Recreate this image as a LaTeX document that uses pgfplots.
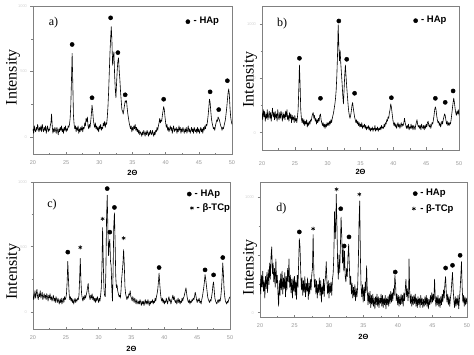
\documentclass[border=0pt]{standalone}
\usepackage{pgfplots}
\pgfplotsset{compat=1.18}
\usepackage{fontspec}
\setmainfont{Liberation Serif}
\setsansfont{Liberation Sans}
\definecolor{frame}{gray}{0.5}
\pgfplotsset{
  xrd/.style={
    scale only axis, anchor=south west,
    xmin=20, xmax=50, ymin=0, ymax=100,
    xtick={20,25,30,35,40,45,50}, minor xtick={22.5,27.5,32.5,37.5,42.5,47.5},
    xtick pos=bottom, ytick pos=left,
    xtick align=inside, ytick align=outside,
    major tick length=2.5pt, minor tick length=1.5pt,
    every tick/.style={frame, line width=0.5pt},
    axis line style={frame, line width=0.7pt},
    xticklabel style={font=\sffamily\fontsize{5.5}{6}\selectfont, text=gray!80, yshift=-3pt},
    yticklabel style={font=\sffamily\fontsize{4}{5}\selectfont, text=gray!35},
    /pgf/number format/assume math mode=true,
    yticklabels={0,500,1000},
    xlabel={2Θ},
    xlabel style={font=\sffamily\bfseries\fontsize{7.5}{8}\selectfont, anchor=center},
    ylabel={Intensity},
    ylabel style={font=\fontsize{16}{18}\selectfont, anchor=center},
  },
  xrdline/.style={black, line width=0.6pt, line join=round},
  hap/.style={only marks, mark=*, mark size=2.1pt, black},
  tcp/.style={only marks, mark=asterisk, mark size=2pt, black, mark options={line width=0.6pt}},
}
\newcommand{\lgd}{\sffamily\bfseries\fontsize{9.5}{10}\selectfont}
\newcommand{\plab}{\fontsize{12}{14}\selectfont}
\begin{document}
\begin{tikzpicture}
\path[use as bounding box] (0,0) rectangle (474pt,354pt);
% ---------------- a ----------------
\begin{axis}[xrd, at={(33pt,200pt)}, width=199pt, height=148pt,
  ytick={11.5,55.7,100}, minor ytick={33.6,77.8},
  xlabel style={at={(axis description cs:0.5,-0.128)}},
  ylabel style={at={(axis description cs:-0.10,0.52)}}]
\addplot[xrdline] coordinates {
(20.0,17)(20.1,14)(20.2,19)(20.3,16)(20.4,15)(20.5,18)(20.6,16)(20.7,20)(20.8,17)(20.9,15)
(21.0,18)(21.1,16)(21.2,19)(21.3,15)(21.4,20)(21.5,17)(21.6,15)(21.7,18)(21.8,16)(21.9,19)
(22.0,14)(22.1,17)(22.2,19)(22.3,15)(22.4,17)(22.5,16)(22.6,19)(22.7,21)(22.8,27)(22.9,19)
(23.0,14)(23.1,17)(23.2,15)(23.3,18)(23.4,16)(23.5,14)(23.6,18)(23.7,16)(23.8,13)(23.9,17)
(24.0,15)(24.1,18)(24.2,16)(24.3,19)(24.4,15)(24.5,17)(24.6,14)(24.7,18)(24.8,16)(24.9,19)
(25.0,15)(25.1,17)(25.2,16)(25.3,19)(25.4,18)(25.5,20)(25.6,24)(25.7,33)(25.8,50)(25.9,68)
(26.0,48)(26.1,26)(26.2,20)(26.3,17)(26.4,19)(26.5,15)(26.6,18)(26.7,16)(26.8,19)(26.9,14)
(27.0,17)(27.1,15)(27.2,18)(27.3,16)(27.4,19)(27.5,15)(27.6,18)(27.7,17)(27.8,21)(27.9,19)
(28.0,24)(28.1,22)(28.2,25)(28.3,19)(28.4,17)(28.5,20)(28.6,18)(28.7,22)(28.8,27)(28.9,33)
(29.0,29)(29.1,23)(29.2,20)(29.3,18)(29.4,21)(29.5,17)(29.6,19)(29.7,16)(29.8,18)(29.9,15)
(30.0,19)(30.1,17)(30.2,20)(30.3,16)(30.4,18)(30.5,17)(30.6,21)(30.7,19)(30.8,22)(30.9,18)
(31.0,21)(31.1,20)(31.2,25)(31.3,32)(31.4,42)(31.5,55)(31.6,68)(31.7,78)(31.8,86)(31.9,76)
(32.0,60)(32.1,66)(32.2,69)(32.3,54)(32.4,44)(32.5,38)(32.6,48)(32.7,57)(32.8,63)(32.9,65)
(33.0,56)(33.1,50)(33.2,42)(33.3,36)(33.4,30)(33.5,29)(33.6,27)(33.7,30)(33.8,33)(33.9,36)
(34.0,35)(34.1,36)(34.2,31)(34.3,27)(34.4,24)(34.5,21)(34.6,19)(34.7,17)(34.8,19)(34.9,15)
(35.0,18)(35.1,16)(35.2,19)(35.3,17)(35.4,20)(35.5,16)(35.6,18)(35.7,15)(35.8,17)(35.9,14)
(36.0,16)(36.1,13)(36.2,15)(36.3,14)(36.4,12)(36.5,15)(36.6,13)(36.7,16)(36.8,14)(36.9,12)
(37.0,15)(37.1,13)(37.2,16)(37.3,14)(37.4,12)(37.5,15)(37.6,13)(37.7,16)(37.8,14)(37.9,13)
(38.0,16)(38.1,14)(38.2,12)(38.3,15)(38.4,13)(38.5,16)(38.6,15)(38.7,18)(38.8,16)(38.9,19)
(39.0,21)(39.1,24)(39.2,21)(39.3,23)(39.4,22)(39.5,26)(39.6,29)(39.7,32)(39.8,30)(39.9,25)
(40.0,21)(40.1,18)(40.2,20)(40.3,16)(40.4,18)(40.5,15)(40.6,17)(40.7,19)(40.8,16)(40.9,18)
(41.0,14)(41.1,17)(41.2,19)(41.3,15)(41.4,17)(41.5,16)(41.6,18)(41.7,14)(41.8,17)(41.9,15)
(42.0,19)(42.1,16)(42.2,18)(42.3,14)(42.4,17)(42.5,15)(42.6,18)(42.7,16)(42.8,14)(42.9,17)
(43.0,15)(43.1,18)(43.2,14)(43.3,16)(43.4,19)(43.5,15)(43.6,17)(43.7,14)(43.8,16)(43.9,18)
(44.0,15)(44.1,17)(44.2,14)(44.3,18)(44.4,16)(44.5,15)(44.6,17)(44.7,14)(44.8,18)(44.9,15)
(45.0,17)(45.1,14)(45.2,16)(45.3,18)(45.4,15)(45.5,17)(45.6,14)(45.7,18)(45.8,16)(45.9,19)
(46.0,17)(46.1,20)(46.2,19)(46.3,22)(46.4,26)(46.5,31)(46.6,37)(46.7,35)(46.8,29)(46.9,24)
(47.0,21)(47.1,19)(47.2,17)(47.3,18)(47.4,16)(47.5,19)(47.6,21)(47.7,23)(47.8,22)(47.9,25)
(48.0,24)(48.1,23)(48.2,21)(48.3,19)(48.4,18)(48.5,16)(48.6,18)(48.7,17)(48.8,19)(48.9,21)
(49.0,23)(49.1,27)(49.2,31)(49.3,36)(49.4,41)(49.5,44)(49.6,40)(49.7,31)(49.8,25)(49.9,22)
(50.0,20)};
\addplot[hap] coordinates {(25.9,74)(28.9,38)(31.7,92)(32.8,68.5)(33.9,40)(39.7,37)(46.7,42)(48,30)(49.3,49.5)(43.35,89.4)};
\node[anchor=west, inner sep=0] at (axis cs:44.2,89.4) {\lgd - HAp};
\node at (axis cs:23.1,88.7) {\plab a)};
\end{axis}
% ---------------- b ----------------
\begin{axis}[xrd, at={(262pt,204pt)}, width=197pt, height=144pt,
  ytick={12,49.75,87.5}, minor ytick={30.9,68.6},
  xticklabel style={yshift=-5pt},
  xlabel style={at={(axis description cs:0.5,-0.153)}},
  ylabel style={at={(axis description cs:-0.061,0.49)}}]
\addplot[xrdline] coordinates {
(20.0,26)(20.1,21)(20.2,28)(20.3,23)(20.4,27)(20.5,20)(20.6,25)(20.7,22)(20.8,28)(20.9,21)
(21.0,24)(21.1,27)(21.2,22)(21.3,26)(21.4,20)(21.5,25)(21.6,29)(21.7,23)(21.8,26)(21.9,21)
(22.0,27)(22.1,22)(22.2,25)(22.3,20)(22.4,28)(22.5,23)(22.6,21)(22.7,26)(22.8,22)(22.9,27)
(23.0,24)(23.1,20)(23.2,26)(23.3,22)(23.4,25)(23.5,21)(23.6,27)(23.7,23)(23.8,28)(23.9,21)
(24.0,24)(24.1,20)(24.2,26)(24.3,22)(24.4,25)(24.5,19)(24.6,24)(24.7,21)(24.8,23)(24.9,19)
(25.0,24)(25.1,20)(25.2,22)(25.3,19)(25.4,23)(25.5,28)(25.6,42)(25.7,59)(25.8,46)(25.9,28)
(26.0,22)(26.1,19)(26.2,22)(26.3,18)(26.4,21)(26.5,17)(26.6,20)(26.7,18)(26.8,21)(26.9,16)
(27.0,19)(27.1,17)(27.2,20)(27.3,18)(27.4,21)(27.5,20)(27.6,23)(27.7,25)(27.8,26)(27.9,22)
(28.0,24)(28.1,20)(28.2,22)(28.3,18)(28.4,21)(28.5,19)(28.6,22)(28.7,20)(28.8,24)(28.9,25)
(29.0,21)(29.1,19)(29.2,17)(29.3,19)(29.4,16)(29.5,18)(29.6,15)(29.7,18)(29.8,16)(29.9,19)
(30.0,17)(30.1,19)(30.2,17)(30.3,20)(30.4,18)(30.5,21)(30.6,19)(30.7,22)(30.8,24)(30.9,26)
(31.0,29)(31.1,32)(31.2,36)(31.3,42)(31.4,52)(31.5,66)(31.6,87)(31.7,72)(31.8,62)(31.9,69)
(32.0,60)(32.1,53)(32.2,46)(32.3,38)(32.4,32)(32.5,42)(32.6,52)(32.7,59)(32.8,51)(32.9,44)
(33.0,38)(33.1,32)(33.2,27)(33.3,24)(33.4,22)(33.5,24)(33.6,27)(33.7,31)(33.8,33)(33.9,29)
(34.0,26)(34.1,23)(34.2,21)(34.3,19)(34.4,21)(34.5,18)(34.6,20)(34.7,17)(34.8,19)(34.9,16)
(35.0,18)(35.1,16)(35.2,19)(35.3,15)(35.4,17)(35.5,16)(35.6,18)(35.7,15)(35.8,17)(35.9,14)
(36.0,16)(36.1,15)(36.2,17)(36.3,14)(36.4,16)(36.5,13)(36.6,15)(36.7,14)(36.8,16)(36.9,13)
(37.0,15)(37.1,14)(37.2,17)(37.3,13)(37.4,15)(37.5,14)(37.6,16)(37.7,13)(37.8,15)(37.9,14)
(38.0,16)(38.1,14)(38.2,17)(38.3,15)(38.4,16)(38.5,15)(38.6,18)(38.7,16)(38.8,19)(38.9,18)
(39.0,21)(39.1,20)(39.2,23)(39.3,22)(39.4,26)(39.5,28)(39.6,32)(39.7,30)(39.8,26)(39.9,22)
(40.0,19)(40.1,17)(40.2,19)(40.3,16)(40.4,18)(40.5,15)(40.6,17)(40.7,19)(40.8,16)(40.9,18)
(41.0,15)(41.1,17)(41.2,19)(41.3,16)(41.4,18)(41.5,17)(41.6,19)(41.7,22)(41.8,19)(41.9,17)
(42.0,15)(42.1,17)(42.2,15)(42.3,18)(42.4,14)(42.5,16)(42.6,15)(42.7,18)(42.8,15)(42.9,17)
(43.0,14)(43.1,17)(43.2,16)(43.3,14)(43.4,17)(43.5,19)(43.6,21)(43.7,18)(43.8,16)(43.9,17)
(44.0,15)(44.1,17)(44.2,14)(44.3,18)(44.4,16)(44.5,15)(44.6,17)(44.7,14)(44.8,17)(44.9,15)
(45.0,18)(45.1,16)(45.2,19)(45.3,20)(45.4,17)(45.5,16)(45.6,18)(45.7,15)(45.8,17)(45.9,19)
(46.0,18)(46.1,21)(46.2,24)(46.3,28)(46.4,30)(46.5,28)(46.6,24)(46.7,21)(46.8,19)(46.9,20)
(47.0,17)(47.1,19)(47.2,16)(47.3,18)(47.4,20)(47.5,18)(47.6,21)(47.7,23)(47.8,25)(47.9,24)
(48.0,21)(48.1,18)(48.2,20)(48.3,17)(48.4,19)(48.5,17)(48.6,19)(48.7,18)(48.8,21)(48.9,25)
(49.0,29)(49.1,33)(49.2,36)(49.3,33)(49.4,29)(49.5,26)(49.6,24)(49.7,27)(49.8,25)(49.9,28)
(50.0,24)};
\addplot[hap] coordinates {(25.7,63.7)(28.9,35.9)(31.7,89.6)(32.9,63)(34.1,39.4)(39.7,36.3)(46.4,35.9)(47.9,33.1)(49.1,41)(43.4,89.8)};
\node[anchor=west, inner sep=0] at (axis cs:44.2,89.8) {\lgd - HAp};
\node at (axis cs:23.05,87.5) {\plab b)};
\end{axis}
% ---------------- c ----------------
\begin{axis}[xrd, at={(33pt,25pt)}, width=197pt, height=147pt,
  ytick={11.4,56,100}, minor ytick={33.7,78},
  xlabel style={at={(axis description cs:0.5,-0.136)}},
  ylabel style={at={(axis description cs:-0.10,0.39)}}]
\addplot[xrdline] coordinates {
(20.0,24)(20.1,20)(20.2,22)(20.3,26)(20.4,21)(20.5,24)(20.6,27)(20.7,22)(20.8,20)(20.9,24)
(21.0,22)(21.1,26)(21.2,21)(21.3,23)(21.4,25)(21.5,20)(21.6,22)(21.7,24)(21.8,21)(21.9,23)
(22.0,20)(22.1,24)(22.2,22)(22.3,19)(22.4,23)(22.5,21)(22.6,24)(22.7,20)(22.8,22)(22.9,19)
(23.0,21)(23.1,23)(23.2,19)(23.3,21)(23.4,18)(23.5,22)(23.6,20)(23.7,18)(23.8,21)(23.9,19)
(24.0,17)(24.1,20)(24.2,18)(24.3,21)(24.4,17)(24.5,19)(24.6,21)(24.7,18)(24.8,22)(24.9,20)
(25.0,21)(25.1,24)(25.2,32)(25.3,46)(25.4,34)(25.5,24)(25.6,20)(25.7,22)(25.8,19)(25.9,21)
(26.0,18)(26.1,20)(26.2,17)(26.3,19)(26.4,21)(26.5,18)(26.6,20)(26.7,19)(26.8,21)(26.9,20)
(27.0,23)(27.1,34)(27.2,48)(27.3,33)(27.4,24)(27.5,21)(27.6,19)(27.7,22)(27.8,20)(27.9,23)
(28.0,21)(28.1,23)(28.2,25)(28.3,28)(28.4,31)(28.5,25)(28.6,22)(28.7,20)(28.8,23)(28.9,21)
(29.0,24)(29.1,20)(29.2,22)(29.3,19)(29.4,21)(29.5,18)(29.6,21)(29.7,19)(29.8,22)(29.9,20)
(30.0,18)(30.1,21)(30.2,19)(30.3,23)(30.4,28)(30.5,42)(30.6,69)(30.7,46)(30.8,28)(30.9,23)
(31.0,22)(31.1,40)(31.2,75)(31.3,91)(31.4,70)(31.5,50)(31.6,58)(31.7,61)(31.8,46)(31.9,43)
(32.0,28)(32.1,19)(32.2,40)(32.3,70)(32.4,79)(32.5,60)(32.6,36)(32.7,28)(32.8,30)(32.9,26)
(33.0,24)(33.1,22)(33.2,23)(33.3,21)(33.4,26)(33.5,34)(33.6,39)(33.7,45)(33.8,54)(33.9,44)
(34.0,29)(34.1,24)(34.2,22)(34.3,20)(34.4,22)(34.5,21)(34.6,24)(34.7,23)(34.8,26)(34.9,22)
(35.0,21)(35.1,19)(35.2,22)(35.3,20)(35.4,18)(35.5,21)(35.6,19)(35.7,17)(35.8,20)(35.9,18)
(36.0,17)(36.1,19)(36.2,17)(36.3,20)(36.4,18)(36.5,16)(36.6,19)(36.7,17)(36.8,19)(36.9,16)
(37.0,18)(37.1,20)(37.2,17)(37.3,19)(37.4,17)(37.5,20)(37.6,18)(37.7,16)(37.8,19)(37.9,17)
(38.0,19)(38.1,18)(38.2,20)(38.3,17)(38.4,19)(38.5,18)(38.6,21)(38.7,19)(38.8,22)(38.9,24)
(39.0,27)(39.1,32)(39.2,38)(39.3,31)(39.4,25)(39.5,21)(39.6,19)(39.7,21)(39.8,18)(39.9,20)
(40.0,17)(40.1,19)(40.2,18)(40.3,21)(40.4,19)(40.5,17)(40.6,20)(40.7,22)(40.8,19)(40.9,20)
(41.0,17)(41.1,19)(41.2,21)(41.3,23)(41.4,20)(41.5,22)(41.6,19)(41.7,18)(41.8,20)(41.9,17)
(42.0,19)(42.1,21)(42.2,18)(42.3,20)(42.4,17)(42.5,19)(42.6,18)(42.7,21)(42.8,19)(42.9,21)
(43.0,22)(43.1,24)(43.2,26)(43.3,28)(43.4,24)(43.5,21)(43.6,19)(43.7,18)(43.8,20)(43.9,17)
(44.0,19)(44.1,18)(44.2,20)(44.3,19)(44.4,21)(44.5,20)(44.6,22)(44.7,25)(44.8,23)(44.9,20)
(45.0,18)(45.1,20)(45.2,19)(45.3,21)(45.4,18)(45.5,19)(45.6,17)(45.7,20)(45.8,22)(45.9,25)
(46.0,28)(46.1,32)(46.2,37)(46.3,34)(46.4,30)(46.5,26)(46.6,22)(46.7,20)(46.8,19)(46.9,18)
(47.0,20)(47.1,19)(47.2,22)(47.3,25)(47.4,30)(47.5,32)(47.6,26)(47.7,21)(47.8,19)(47.9,18)
(48.0,17)(48.1,19)(48.2,20)(48.3,18)(48.4,20)(48.5,19)(48.6,22)(48.7,27)(48.8,35)(48.9,45)
(49.0,37)(49.1,27)(49.2,22)(49.3,19)(49.4,18)(49.5,17)(49.6,19)(49.7,18)(49.8,20)(49.9,21)
(50.0,22)};
\addplot[hap] coordinates {(25.3,52.3)(31.3,95.5)(31.7,65.9)(32.4,82.7)(39.2,41.8)(46.2,40.2)(47.5,36.8)(48.9,48.6)(43.8,91.8)};
\addplot[tcp] coordinates {(27.2,55.5)(30.6,75)(33.8,61.8)(44.2,82.3)};
\node[anchor=west, inner sep=0] at (axis cs:44.6,91.8) {\lgd - HAp};
\node[anchor=west, inner sep=0] at (axis cs:44.9,82.3) {\lgd - β-TCp};
\node at (axis cs:22.9,84.5) {\plab c)};
\end{axis}
% ---------------- d ----------------
\begin{axis}[xrd, at={(260pt,37pt)}, width=207pt, height=135pt,
  ytick={3.2,46,88.9}, minor ytick={24.6,67.5},
  xlabel style={at={(axis description cs:0.5,-0.148)}},
  ylabel style={at={(axis description cs:-0.048,0.37)}}]
\addplot[xrdline] coordinates {
(20.0,28)(20.1,17)(20.2,31)(20.3,22)(20.4,34)(20.5,19)(20.6,27)(20.7,14)(20.8,30)(20.9,21)
(21.0,33)(21.1,18)(21.2,35)(21.3,24)(21.4,40)(21.5,28)(21.6,45)(21.7,52)(21.8,32)(21.9,40)
(22.0,26)(22.1,36)(22.2,22)(22.3,43)(22.4,25)(22.5,31)(22.6,18)(22.7,8)(22.8,27)(22.9,16)
(23.0,32)(23.1,20)(23.2,34)(23.3,17)(23.4,29)(23.5,21)(23.6,33)(23.7,15)(23.8,30)(23.9,20)
(24.0,36)(24.1,26)(24.2,43)(24.3,22)(24.4,31)(24.5,18)(24.6,28)(24.7,14)(24.8,29)(24.9,19)
(25.0,30)(25.1,16)(25.2,27)(25.3,13)(25.4,31)(25.5,22)(25.6,40)(25.7,58)(25.8,52)(25.9,34)
(26.0,20)(26.1,29)(26.2,16)(26.3,27)(26.4,18)(26.5,30)(26.6,15)(26.7,25)(26.8,19)(26.9,29)
(27.0,13)(27.1,25)(27.2,17)(27.3,28)(27.4,20)(27.5,31)(27.6,36)(27.7,61)(27.8,34)(27.9,22)
(28.0,28)(28.1,17)(28.2,27)(28.3,14)(28.4,24)(28.5,18)(28.6,29)(28.7,16)(28.8,27)(28.9,11)
(29.0,23)(29.1,17)(29.2,28)(29.3,15)(29.4,26)(29.5,30)(29.6,41)(29.7,26)(29.8,17)(29.9,27)
(30.0,14)(30.1,25)(30.2,18)(30.3,26)(30.4,16)(30.5,28)(30.6,32)(30.7,45)(30.8,78)(30.9,58)
(31.0,72)(31.05,91)(31.15,68)(31.25,40)(31.35,28)(31.45,46)(31.55,33)(31.65,52)(31.75,74)(31.85,60)
(31.95,40)(32.05,51)(32.15,34)(32.25,49)(32.35,30)(32.45,26)(32.55,36)(32.65,30)(32.75,45)(32.85,54)
(32.95,38)(33.05,24)(33.15,30)(33.25,17)(33.35,25)(33.45,14)(33.55,22)(33.65,15)(33.75,24)(33.85,12)
(33.95,21)(34.05,15)(34.15,22)(34.25,40)(34.35,70)(34.45,86)(34.55,45)(34.65,22)(34.75,15)(34.85,24)
(34.95,11)(35.05,22)(35.15,12)(35.25,26)(35.35,18)(35.45,38)(35.55,20)(35.65,9)(35.75,18)(35.85,10)
(35.95,19)(36.05,7)(36.15,16)(36.25,9)(36.35,17)(36.45,8)(36.55,14)(36.65,6)(36.75,15)(36.85,9)
(36.95,17)(37.05,8)(37.15,15)(37.25,7)(37.35,14)(37.45,10)(37.55,17)(37.65,8)(37.75,16)(37.85,7)
(37.95,14)(38.05,9)(38.15,16)(38.25,6)(38.35,14)(38.45,9)(38.55,15)(38.65,8)(38.75,17)(38.85,10)
(38.95,19)(39.05,11)(39.15,18)(39.25,12)(39.35,21)(39.45,16)(39.55,31)(39.65,24)(39.75,12)(39.85,17)
(39.95,9)(40.05,16)(40.15,8)(40.25,15)(40.35,9)(40.45,17)(40.55,10)(40.65,16)(40.75,8)(40.85,18)
(40.95,12)(41.05,20)(41.15,28)(41.25,15)(41.35,21)(41.45,12)(41.55,20)(41.6,43)(41.7,18)(41.8,10)
(41.9,17)(42.0,8)(42.1,15)(42.2,9)(42.3,16)(42.4,10)(42.5,17)(42.6,8)(42.7,14)(42.8,7)
(42.9,15)(43.0,9)(43.1,14)(43.2,7)(43.3,16)(43.4,9)(43.5,14)(43.6,7)(43.7,13)(43.8,8)
(43.9,15)(44.0,9)(44.1,16)(44.2,8)(44.3,14)(44.4,6)(44.5,13)(44.6,9)(44.7,16)(44.8,10)
(44.9,18)(45.0,11)(45.1,17)(45.2,12)(45.3,28)(45.4,14)(45.5,8)(45.6,15)(45.7,9)(45.8,16)
(45.9,8)(46.0,14)(46.1,7)(46.2,15)(46.3,9)(46.4,17)(46.5,11)(46.6,20)(46.7,14)(46.8,25)
(46.9,30)(47.0,18)(47.1,11)(47.2,17)(47.3,9)(47.4,15)(47.5,8)(47.6,14)(47.7,18)(47.8,26)
(47.9,33)(48.0,20)(48.1,12)(48.2,7)(48.3,15)(48.4,8)(48.5,14)(48.6,9)(48.7,16)(48.8,6)
(48.9,13)(49.0,20)(49.1,30)(49.2,41)(49.3,22)(49.4,11)(49.5,16)(49.6,8)(49.7,15)(49.8,9)
(49.9,14)(50.0,10)};
\addplot[hap] coordinates {(25.7,63)(31.7,80.2)(32.2,52.6)(32.9,59.3)(39.6,33.3)(46.9,36.3)(47.9,38.3)(49,45.7)(42.5,91.4)};
\addplot[tcp] coordinates {(27.7,65.4)(31.1,94.6)(34.4,90.9)(42.3,80.2)};
\node[anchor=west, inner sep=0] at (axis cs:43.2,91.4) {\lgd - HAp};
\node[anchor=west, inner sep=0] at (axis cs:43.2,80.2) {\lgd - β-TCp};
\node at (axis cs:23.1,80.2) {\plab d)};
\end{axis}
\end{tikzpicture}
\end{document}
